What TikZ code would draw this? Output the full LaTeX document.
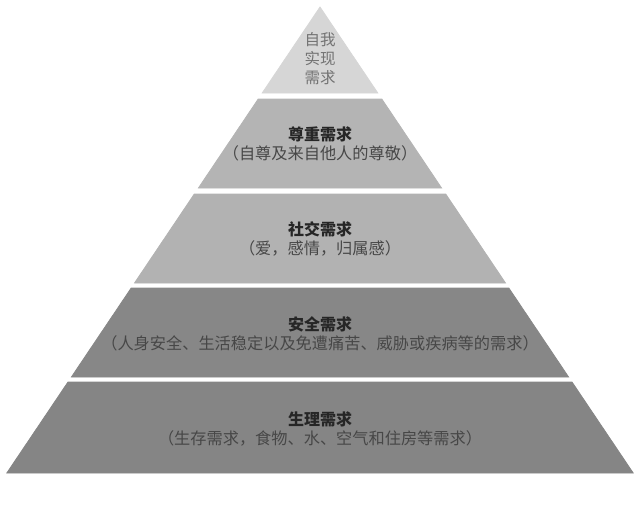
\documentclass[tikz,border=0pt]{standalone}
\usepackage{fontspec}
\setmainfont{Noto Sans CJK SC}
\definecolor{tierA}{RGB}{214,214,214}
\definecolor{tierB}{RGB}{180,180,180}
\definecolor{tierC}{RGB}{178,178,178}
\definecolor{tierD}{RGB}{135,135,135}
\definecolor{tierE}{RGB}{133,133,133}
\begin{document}
\begin{tikzpicture}[x=1pt, y=-1pt,
    band/.style={draw=white, line width=0.8pt},
    title/.style={font=\fontsize{16}{18}\selectfont\bfseries, text=black!85},
    sub/.style={font=\fontsize{16.2}{18}\selectfont, text=black!72},
    top/.style={font=\fontsize{15.5}{19}\selectfont, text=black!55, align=center}]
    \useasboundingbox (0, 0) rectangle (639, 512);

            %%top
            \fill[band, tierA] (320, 7) -- (377.8, 93) -- (262.2, 93) -- cycle;
                \node[top] (self) at (320, 59){自我\\实现\\需求};

            %%esteem
            \fill[band, tierB] (258.2, 99) -- (381.8, 99) -- (441.6, 188) -- (198.4, 188) -- cycle;
                \node[title] (esteem) at (320, 134){尊重需求};
                \node[sub] (esteemsub) at (320, 153){（自尊及来自他人的尊敬）};

            %%social
            \fill[band, tierC] (194.3, 194) -- (445.7, 194) -- (505.5, 283) -- (134.5, 283) -- cycle;
                \node[title] (social) at (320, 229){社交需求};
                \node[sub] (socialsub) at (320, 248){（爱，感情，归属感）};

            %%safety
            \fill[band, tierD] (131.2, 288) -- (508.8, 288) -- (568.6, 377) -- (71.4, 377) -- cycle;
                \node[title] (safety) at (320, 324){安全需求};
                \node[sub] (safetysub) at (320, 343){（人身安全、生活稳定以及免遭痛苦、威胁或疾病等的需求）};

            %%body
            \fill[band, tierE] (68, 382) -- (572, 382) -- (633.2, 473) -- (6.8, 473) -- cycle;
                \node[title] (body) at (320, 419){生理需求};
                \node[sub] (bodysub) at (320, 438){（生存需求，食物、水、空气和住房等需求）};

\end{tikzpicture}
\end{document}
